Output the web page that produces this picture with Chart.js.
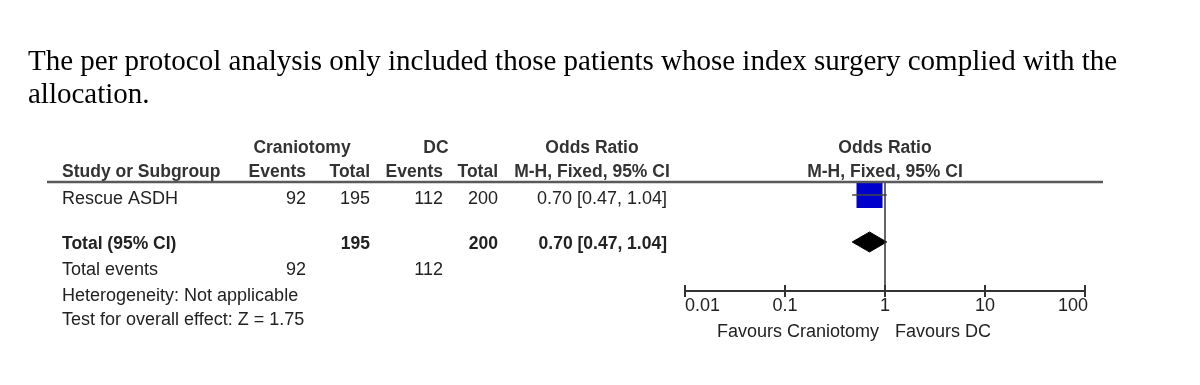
<!DOCTYPE html>
<html>
<head>
<meta charset="utf-8">
<script src="https://cdn.jsdelivr.net/npm/chart.js@4.4.1/dist/chart.umd.min.js"></script>
<style>
    html, body { margin: 0; padding: 0; background: #fff; }
    #wrap { position: relative; width: 1200px; height: 385px; overflow: hidden; }
    #intro {
        position: absolute; left: 28px; top: 43.5px; z-index: 2;
        font-family: 'Liberation Serif', 'Times New Roman', serif;
        font-size: 29px; line-height: 33.5px; color: #000; white-space: nowrap;
    }
    #forest { position: absolute; left: 0; top: 0; }
</style>
</head>
<body>
<div id="wrap">
    <div id="intro">The per protocol analysis only included those patients whose index surgery complied with the<br>allocation.</div>
    <canvas id="forest" width="1200" height="385"></canvas>
</div>
<script>
// study rows
const studies = ['Rescue ASDH'];
const cranEvents = [92];
const cranTotal = [195];
const dcEvents = [112];
const dcTotal = [200];
const oddsRatio = [0.70];
const ciLow = [0.47];
const ciHigh = [1.04];

// pooled estimate
const pooledOR = 0.70;
const pooledLow = 0.47;
const pooledHigh = 1.04;
const totalCran = 195;
const totalDC = 200;
const totalEventsCran = 92;
const totalEventsDC = 112;
const heterogeneity = 'Not applicable';
const zValue = 1.75;

// axis
const tickValues = [0.01, 0.1, 1, 10, 100];
const tickLabels = ['0.01', '0.1', '1', '10', '100'];

const STUDY_ROW = 0;
const TOTAL_ROW = 2;
const DIAMOND_HALF = 0.425;

const fmt = v => v.toFixed(2);
const ciText = (o, l, h) => fmt(o) + ' [' + fmt(l) + ', ' + fmt(h) + ']';

const REG = "18px 'Liberation Sans', Arial, sans-serif";
const BOLD = "bold 17.5px 'Liberation Sans', Arial, sans-serif";

const tablePlugin = {
    id: 'forestTable',
    afterDraw(chart) {
        const ctx = chart.ctx;
        const xs = chart.scales.x;
        const area = chart.chartArea;
        const x1 = xs.getPixelForValue(1);

        const txt = (s, x, y, align, font, color) => {
            ctx.font = font;
            ctx.textAlign = align;
            ctx.fillStyle = color || '#222';
            ctx.fillText(s, x, y);
        };

        ctx.save();
        ctx.textBaseline = 'alphabetic';

        // headers
        txt('Craniotomy', 302, 153, 'center', BOLD, '#333');
        txt('DC', 436, 153, 'center', BOLD, '#333');
        txt('Odds Ratio', 592, 153, 'center', BOLD, '#333');
        txt('Odds Ratio', x1, 153, 'center', BOLD, '#333');
        txt('Study or Subgroup', 62, 177, 'left', BOLD, '#333');
        txt('Events', 306, 177, 'right', BOLD, '#333');
        txt('Total', 370, 177, 'right', BOLD, '#333');
        txt('Events', 443, 177, 'right', BOLD, '#333');
        txt('Total', 498, 177, 'right', BOLD, '#333');
        txt('M-H, Fixed, 95% CI', 592, 177, 'center', BOLD, '#333');
        txt('M-H, Fixed, 95% CI', x1, 177, 'center', BOLD, '#333');

        // header rule
        ctx.strokeStyle = '#5a5a5a';
        ctx.lineWidth = 2.5;
        ctx.beginPath();
        ctx.moveTo(47, 182);
        ctx.lineTo(1103, 182);
        ctx.stroke();

        // study rows
        studies.forEach((name, i) => {
            const y = 204 + i * 24;
            txt(name, 62, y, 'left', REG);
            txt(String(cranEvents[i]), 306, y, 'right', REG);
            txt(String(cranTotal[i]), 370, y, 'right', REG);
            txt(String(dcEvents[i]), 443, y, 'right', REG);
            txt(String(dcTotal[i]), 498, y, 'right', REG);
            txt(ciText(oddsRatio[i], ciLow[i], ciHigh[i]), 667, y, 'right', REG);
        });

        // totals
        txt('Total (95% CI)', 62, 249, 'left', BOLD, '#222');
        txt(String(totalCran), 370, 249, 'right', BOLD, '#222');
        txt(String(totalDC), 498, 249, 'right', BOLD, '#222');
        txt(ciText(pooledOR, pooledLow, pooledHigh), 667, 249, 'right', BOLD, '#222');
        txt('Total events', 62, 275, 'left', REG);
        txt(String(totalEventsCran), 306, 275, 'right', REG);
        txt(String(totalEventsDC), 443, 275, 'right', REG);
        txt('Heterogeneity: ' + heterogeneity, 62, 301, 'left', REG);
        txt('Test for overall effect: Z = ' + zValue.toFixed(2), 62, 325, 'left', REG);

        // x axis
        const ay = area.bottom;
        ctx.strokeStyle = '#333';
        ctx.lineWidth = 2;
        ctx.beginPath();
        ctx.moveTo(xs.getPixelForValue(tickValues[0]), ay);
        ctx.lineTo(xs.getPixelForValue(tickValues[tickValues.length - 1]), ay);
        tickValues.forEach(v => {
            const px = xs.getPixelForValue(v);
            ctx.moveTo(px, ay - 6);
            ctx.lineTo(px, ay + 6);
        });
        ctx.stroke();
        tickValues.forEach((v, i) => {
            const px = xs.getPixelForValue(v);
            const align = i === 0 ? 'left' : (i === tickValues.length - 1 ? 'right' : 'center');
            txt(tickLabels[i], align === 'right' ? px + 3 : px, ay + 20, align, REG);
        });
        txt('Favours Craniotomy', x1 - 6, ay + 46, 'right', REG);
        txt('Favours DC', x1 + 10, ay + 46, 'left', REG);

        ctx.restore();
    }
};

const yMin = -0.553;
const yMax = 4.085;

const diamond = [
    { x: pooledLow, y: TOTAL_ROW },
    { x: pooledOR, y: TOTAL_ROW - DIAMOND_HALF },
    { x: pooledHigh, y: TOTAL_ROW },
    { x: pooledOR, y: TOTAL_ROW + DIAMOND_HALF },
    { x: pooledLow, y: TOTAL_ROW }
];

new Chart(document.getElementById('forest').getContext('2d'), {
    type: 'scatter',
    data: {
        datasets: [
            {
                type: 'line',
                data: [{ x: 1, y: yMin }, { x: 1, y: yMax }],
                borderColor: '#333',
                borderWidth: 1.5,
                pointRadius: 0,
                clip: false
            },
            {
                type: 'line',
                data: studies.map((s, i) => [{ x: ciLow[i], y: STUDY_ROW + i }, { x: ciHigh[i], y: STUDY_ROW + i }]).flat(),
                borderColor: '#444',
                borderWidth: 1.5,
                pointRadius: 0
            },
            {
                data: studies.map((s, i) => ({ x: oddsRatio[i], y: STUDY_ROW + i })),
                pointStyle: 'rect',
                pointRadius: 18.4,
                backgroundColor: '#0000cc',
                borderColor: '#0000cc',
                borderWidth: 0,
                clip: false
            },
            {
                type: 'line',
                data: diamond,
                borderColor: '#000',
                backgroundColor: '#000',
                borderWidth: 1,
                pointRadius: 0,
                tension: 0,
                fill: 'shape'
            }
        ]
    },
    options: {
        responsive: false,
        animation: false,
        events: [],
        layout: { padding: { left: 685, right: 115, top: 182, bottom: 94 } },
        plugins: {
            legend: { display: false },
            tooltip: { enabled: false }
        },
        scales: {
            x: { type: 'logarithmic', min: 0.01, max: 100, display: false },
            y: { type: 'linear', min: yMin, max: yMax, reverse: true, display: false }
        }
    },
    plugins: [tablePlugin]
});
</script>
</body>
</html>
